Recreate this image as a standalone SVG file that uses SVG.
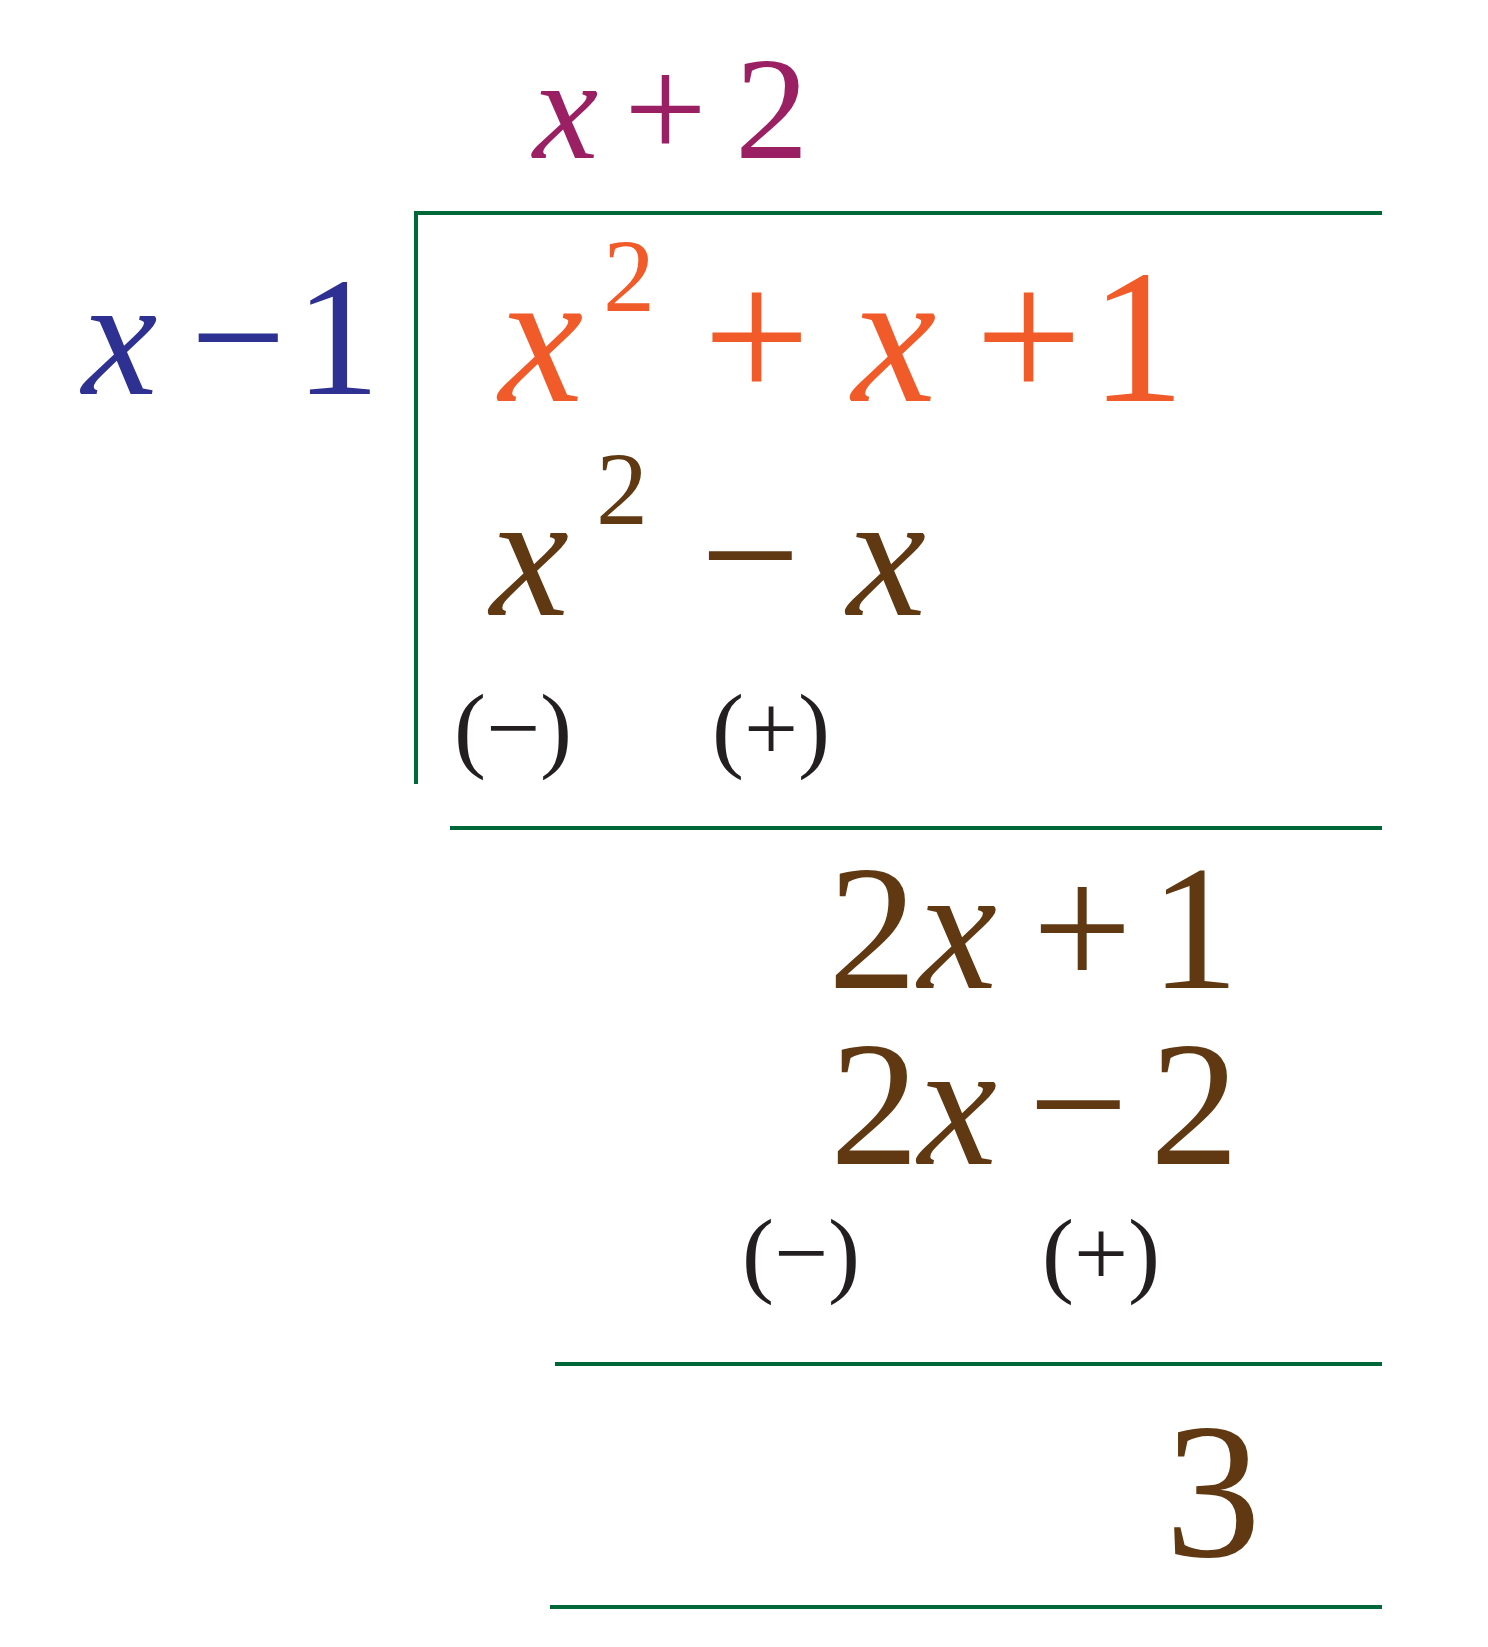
<svg xmlns="http://www.w3.org/2000/svg" width="1488" height="1647" viewBox="0 0 1488 1647">
<style>
text{font-family:"Liberation Serif","Times New Roman",serif}
.i{font-style:italic}
.q{fill:#9B1F63;font-size:147px}
.d{fill:#2E3192;font-size:170px}
.o{fill:#F15A29;font-size:190px}
.b{fill:#603913;font-size:178px}
.s{font-size:104px}
.k{fill:#231F20;font-size:96px}
line{stroke:#006838;stroke-width:4}
</style>
<rect width="1488" height="1647" fill="#fff"/>
<g id="connectors">
<line x1="416" y1="213" x2="1382" y2="213"/>
<line x1="416" y1="211" x2="416" y2="784"/>
<line x1="450" y1="828" x2="1382" y2="828"/>
<line x1="555" y1="1364" x2="1382" y2="1364"/>
<line x1="550" y1="1607" x2="1382" y2="1607"/>
</g>
<g id="quotient" class="q"><text x="533" y="158" class="i">x</text><text x="624" y="158">+</text><text x="735" y="158">2</text></g>
<g id="divisor" class="d"><text x="82" y="394" class="i">x</text><text x="190" y="394">−</text><text x="295" y="394">1</text></g>
<g id="dividend" class="o"><text x="499" y="401" class="i">x</text><text x="603" y="311" class="s">2</text><text x="703" y="401">+</text><text x="852" y="401" class="i">x</text><text x="975" y="401">+</text><text x="1090" y="401">1</text></g>
<g id="sub1" class="b"><text x="490" y="615" class="i">x</text><text x="596" y="524" class="s">2</text><text x="700" y="615">−</text><text x="847" y="615" class="i">x</text></g>
<g id="signs1" class="k"><text x="454" y="760">(−)</text><text x="712" y="760">(+)</text></g>
<g id="rem1" class="b"><text x="828" y="988">2</text><text x="918" y="988" class="i">x</text><text x="1032" y="988">+</text><text x="1150" y="988">1</text></g>
<g id="sub2" class="b"><text x="830" y="1164">2</text><text x="918" y="1164" class="i">x</text><text x="1028" y="1164">−</text><text x="1150" y="1164">2</text></g>
<g id="signs2" class="k"><text x="742" y="1285">(−)</text><text x="1042" y="1285">(+)</text></g>
<g id="rem2" class="b"><text x="1165" y="1556" style="font-size:192px">3</text></g>
</svg>
